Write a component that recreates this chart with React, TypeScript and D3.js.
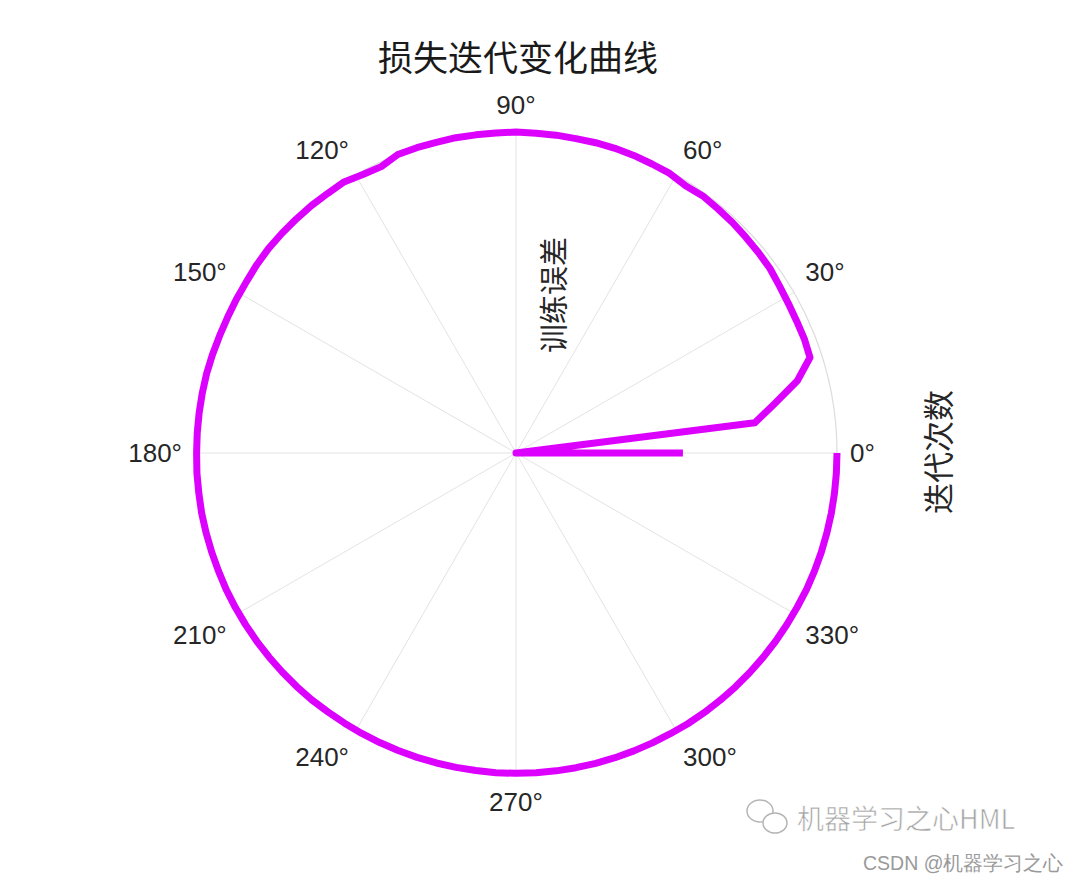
import React from "react";
import * as d3 from "d3";

// ---- Data ----
const title = "损失迭代变化曲线";
const rLabel = "训练误差";
const thetaLabel = "迭代次数";
// angular tick values (degrees)
const thetaTicks = [0, 30, 60, 90, 120, 150, 180, 210, 240, 270, 300, 330];
// normalised loss value for each iteration (101 iterations spread over 0..360°)
const lossValues = [
  0.52, 0.0, 0.75, 0.82, 0.905, 0.963, 0.966, 0.966, 0.968, 0.972,
  0.978, 0.98, 0.982, 0.985, 0.987, 0.99, 0.986, 0.994, 0.995, 0.997,
  0.998, 0.998, 0.997, 0.998, 0.998, 1.0, 0.999, 0.999, 1.0, 0.999,
  1.0, 1.0, 0.986, 0.99, 1.0, 0.999, 1.0, 1.0, 1.0, 1.0,
  0.998, 0.995, 0.994, 0.993, 0.993, 0.994, 0.995, 0.995, 0.995, 0.995,
  0.995, 0.996, 0.996, 0.997, 0.997, 0.997, 0.997, 0.998, 0.998, 0.998,
  0.998, 0.998, 0.998, 0.998, 0.998, 0.997, 0.997, 0.997, 0.997, 0.997,
  0.997, 0.997, 0.997, 0.997, 0.998, 0.998, 0.998, 0.998, 0.998, 0.998,
  0.998, 0.998, 0.998, 0.998, 0.999, 0.999, 0.999, 0.999, 0.999, 0.999,
  0.999, 0.999, 0.999, 1.0, 1.0, 1.0, 1.0, 1.0, 1.0, 1.0,
  1.0,
];
const watermark1 = "机器学习之心HML";
const watermark2 = "CSDN @机器学习之心";

export default function App() {
  const W = 1083;
  const H = 883;
  const cx = 516;
  const cy = 453;
  const R = 321;

  const rScale = d3.scaleLinear().domain([0, 1]).range([0, R]);
  const tScale = d3
    .scaleLinear()
    .domain([0, lossValues.length - 1])
    .range([0, 2 * Math.PI]);

  const line = d3
    .line<number>()
    .x((d, i) => rScale(d) * Math.cos(tScale(i)))
    .y((d, i) => -rScale(d) * Math.sin(tScale(i)));

  const labelR = R + 13;
  const latin = "'Liberation Sans', Arial, Helvetica, sans-serif";
  const cjk = "'Noto Sans CJK SC', sans-serif";

  return (
    <svg
      width={W}
      height={H}
      style={{ position: "absolute", left: 0, top: 0, background: "#fff" }}
    >
      <rect x={0} y={0} width={W} height={H} fill="#fff" />
      <g transform={`translate(${cx},${cy})`}>
        {thetaTicks.map((t) => {
          const a = (t * Math.PI) / 180;
          return (
            <line
              key={"s" + t}
              x1={0}
              y1={0}
              x2={R * Math.cos(a)}
              y2={-R * Math.sin(a)}
              stroke="#e3e3e3"
              strokeWidth={1}
            />
          );
        })}
        <circle r={R} fill="none" stroke="#dcdcdc" strokeWidth={1.2} />
        <path
          d={line(lossValues) || ""}
          fill="none"
          stroke="#dc00ff"
          strokeWidth={7}
          strokeLinejoin="round"
          strokeLinecap="butt"
        />
        {thetaTicks.map((t) => {
          const a = (t * Math.PI) / 180;
          const c = Math.cos(a);
          const s = Math.sin(a);
          const px = labelR * c;
          const py = -labelR * s;
          const anchor = c > 0.1 ? "start" : c < -0.1 ? "end" : "middle";
          let by = py + 9;
          if (s > 0.1) by = py - 5;
          else if (s < -0.1) by = py + 24;
          return (
            <text
              key={"l" + t}
              x={px}
              y={by}
              textAnchor={anchor}
              fontFamily={latin}
              fontSize={26}
              fill="#262626"
            >
              {t + "°"}
            </text>
          );
        })}
      </g>
      <text
        x={518}
        y={71}
        textAnchor="middle"
        fontFamily={cjk}
        fontSize={35}
        fill="#1a1a1a"
      >
        {title}
      </text>
      <text
        transform="translate(552,295) rotate(-90)"
        textAnchor="middle"
        dominantBaseline="central"
        fontFamily={cjk}
        fontSize={29}
        fill="#262626"
      >
        {rLabel}
      </text>
      <text
        transform="translate(936,452) rotate(-90)"
        textAnchor="middle"
        dominantBaseline="central"
        fontFamily={cjk}
        fontSize={31}
        fill="#262626"
      >
        {thetaLabel}
      </text>
      {/* watermark */}
      <g fill="none" stroke="#b5b5b5" strokeWidth={1.5}>
        <ellipse cx={760} cy={811} rx={13} ry={11} />
        <ellipse cx={775} cy={823} rx={12} ry={10} fill="#fff" />
      </g>
      <text
        x={797}
        y={829}
        fontFamily={cjk}
        fontSize={27}
        fill="#a3a3a3"
        stroke="#fff"
        strokeWidth={0.6}
      >
        {watermark1}
      </text>
      <text
        x={863}
        y={870}
        fontFamily={latin}
        fontSize={19.5}
        fill="#9a9a9a"
      >
        {watermark2}
      </text>
    </svg>
  );
}
